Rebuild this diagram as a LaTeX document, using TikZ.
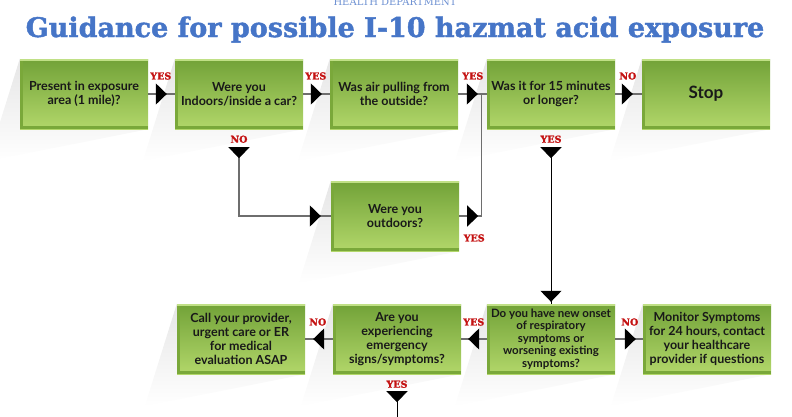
\documentclass[tikz,border=0pt]{standalone}
\usepackage{fontspec}
\setmainfont{Lato}
\newfontfamily\slabfont{DejaVu Serif}[BoldFeatures={FakeBold=1.6}]
\usetikzlibrary{arrows.meta,calc,decorations.markings,backgrounds}

\definecolor{greentop}{RGB}{114,162,56}
\definecolor{greenbot}{RGB}{178,215,106}
\definecolor{greenedge}{RGB}{122,168,58}
\definecolor{greenlight}{RGB}{192,224,134}
\definecolor{titleblue}{RGB}{70,117,199}
\definecolor{deptblue}{RGB}{110,145,210}
\definecolor{answerred}{RGB}{196,18,18}
\definecolor{linegray}{RGB}{110,110,110}

\tikzset{
  question/.style={minimum width=128pt, minimum height=70pt, inner sep=0pt,
    align=center, text=black!90, font=\bfseries\fontsize{12.5}{14}\selectfont,
    top color=greentop, bottom color=greenbot,
    path picture={
      \fill[greenedge] (path picture bounding box.south west) rectangle ([xshift=3pt]path picture bounding box.north west);
      \fill[greenedge] (path picture bounding box.south west) rectangle ([yshift=3pt]path picture bounding box.south east);
      \fill[greenlight] (path picture bounding box.north west) rectangle ([yshift=-2pt]path picture bounding box.north east);
    }},
  answer/.style={font=\slabfont\bfseries\fontsize{9.5}{11}\selectfont, text=answerred, inner sep=0pt},
  conn/.style={draw=linegray, line width=1.3pt},
  arrowat/.style={postaction={decorate, decoration={markings,
    mark=at position #1 with {\arrow{Triangle[length=11pt,width=21pt,color=black]}}}}},
  shadowpoly/.style={top color=black!10, bottom color=white}
}

\begin{document}
\begin{tikzpicture}[x=1pt, y=-1pt]
    \useasboundingbox (0,0) rectangle (792,416);

    % Heading
    \node[font=\slabfont\fontsize{10}{12}\selectfont, text=deptblue, anchor=base] (dept) at (395,5) {HEALTH DEPARTMENT};
    \node[font=\slabfont\bfseries\fontsize{27}{30}\selectfont, text=titleblue, anchor=base] (title) at (395,37) {Guidance for possible I-10 hazmat acid exposure};

    % First row of questions
    \node[question] (b1) at (84,94) {Present in exposure\\area (1 mile)?};
    \node[question] (b2) at (239,94) {Were you\\Indoors/inside a car?};
    \node[question] (b3) at (394,94) {Was air pulling from\\the outside?};
    \node[question] (b4) at (551,94) {Was it for 15 minutes\\or longer?};
    \node[question, font=\bfseries\fontsize{17}{20}\selectfont] (b5) at (706,94) {Stop};

    % Second row
    \node[question] (out) at (395,216) {Were you\\outdoors?};

    % Third row
    \node[question] (call) at (241,339) {Call your provider,\\urgent care or ER\\for medical\\evaluation ASAP};
    \node[question] (emerg) at (397,339) {Are you\\experiencing\\emergency\\signs/symptoms?};
    \node[question, font=\bfseries\fontsize{11.5}{12.5}\selectfont] (onset) at (551,339) {Do you have new onset\\of respiratory\\symptoms or\\worsening existing\\symptoms?};
    \node[question] (monitor) at (707,339) {Monitor Symptoms\\for 24 hours, contact\\your healthcare\\provider if questions};

    % Shadows behind the boxes
    \begin{pgfonlayer}{background}
    \foreach \b in {b1,b2,b3,b4,b5,out,call,emerg,onset,monitor}
        \shade[shadowpoly] (\b.north west) -- (\b.south east) -- ($(\b.south west)+(-32,32)$) -- cycle;
    \end{pgfonlayer}

    % Connectors along the first row
    \coordinate (join) at ($(b4.west)+(-5,0)$);
    \draw[conn, arrowat=-8pt] (b1) -- (b2);
    \draw[conn, arrowat=-8pt] (b2) -- (b3);
    \draw[conn, arrowat=-9pt] (b3) -- (b4);
    \draw[conn, arrowat=-9pt] (b4) -- (b5);

    % Indoors: no, go to outdoors
    \draw[conn, arrowat=11pt, arrowat=-10pt] ($(b2.south)+(0,18)$) |- (out);
    \draw[conn, arrowat=19pt] (out) -- (out -| join) -- (join);

    % 15 minutes: yes, down to symptoms
    \draw[conn, draw=black, line width=1pt, arrowat=11pt, arrowat=-2pt] ($(b4.south)+(0,18)$) -- (onset);

    % Third row connectors
    \coordinate (below) at ($(emerg.south)+(0,100)$);
    \draw[conn, arrowat=-7pt] (onset) -- (emerg);
    \draw[conn, arrowat=-8pt] (emerg) -- (call);
    \draw[conn, arrowat=-7pt] (onset) -- (monitor);
    \draw[conn, draw=black, line width=1pt, arrowat=9pt] ($(emerg.south)+(0,19)$) -- (below);

    % Answers
    \node[answer] (yes1) at ($(b2.west)+(-14,-18)$) {YES};
    \node[answer] (yes2) at ($(b3.west)+(-14,-18)$) {YES};
    \node[answer] (yes3) at ($(b4.west)+(-14,-18)$) {YES};
    \node[answer] (no1) at ($(b5.west)+(-14,-18)$) {NO};
    \node[answer] (no2) at ($(b2.south)+(0,10)$) {NO};
    \node[answer] (yes4) at ($(out.east)+(15,22)$) {YES};
    \node[answer] (yes5) at ($(b4.south)+(0,10)$) {YES};
    \node[answer] (yes6) at ($(onset.west)+(-13,-17)$) {YES};
    \node[answer] (no3) at ($(emerg.west)+(-15,-17)$) {NO};
    \node[answer] (no4) at ($(monitor.west)+(-13,-17)$) {NO};
    \node[answer] (yes7) at ($(emerg.south)+(0,10)$) {YES};
\end{tikzpicture}
\end{document}
